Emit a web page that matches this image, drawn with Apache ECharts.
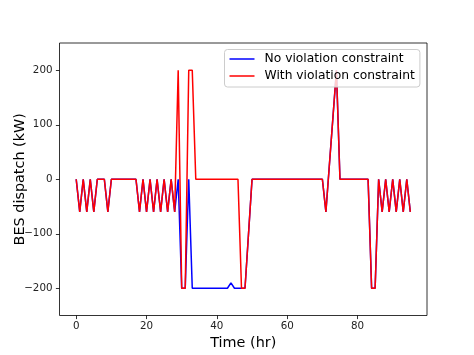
<!DOCTYPE html>
<html>
<head>
<meta charset="utf-8">
<script src="https://cdn.jsdelivr.net/npm/echarts@6/dist/echarts.min.js"></script>
<style>html,body{margin:0;padding:0;background:#fff}#c{width:474px;height:355px}</style>
</head>
<body>
<div id="c"></div>
<script>
// Values per 15-min step index (0..95)
const withViolation = [
  0,-60,0,-60,0,-60,0,0,0,-60,
  0,0,0,0,0,0,0,0,
  -60,0,-60,0,-60,0,-60,0,-60,0,-60,
  200,
  -200,-200,
  200,200,
  0,0,0,0,0,0,0,0,0,0,0,0,0,
  -200,-200,
  -100,
  0,0,0,0,0,0,0,0,0,0,0,0,0,0,0,0,0,0,0,0,0,
  -60,
  27,113,200,
  0,0,0,0,0,0,0,0,0,
  -200,-200,
  0,-60,0,-60,0,-60,0,-60,0,-60
];
const noViolation = [
  0,-60,0,-60,0,-60,0,0,0,-60,
  0,0,0,0,0,0,0,0,
  -60,0,-60,0,-60,0,-60,0,-60,0,-60,
  0,
  -200,-200,
  0,-200,
  -200,-200,-200,-200,-200,-200,-200,-200,-200,-200,-190,-200,-200,
  -200,-200,
  -100,
  0,0,0,0,0,0,0,0,0,0,0,0,0,0,0,0,0,0,0,0,0,
  -60,
  27,113,200,
  0,0,0,0,0,0,0,0,0,
  -200,-200,
  0,-60,0,-60,0,-60,0,-60,0,-60
];
const xTicks = [0, 20, 40, 60, 80];
const yTicks = [-200, -100, 0, 100, 200];
const seriesNames = ['No violation constraint', 'With violation constraint'];

const toPairs = arr => arr.map((v, i) => [i, v]);
const FONT = 'DejaVu Sans';
const chart = echarts.init(document.getElementById('c'), null, {renderer: 'canvas'});
chart.setOption({
  animation: false,
  backgroundColor: '#fff',
  grid: {left: 59.5, right: 47, top: 43, bottom: 39.5, show: true, borderColor: '#000', borderWidth: 0.8,
         backgroundColor: 'transparent', containLabel: false, outerBoundsMode: 'none'},
  legend: {
    orient: 'vertical', left: 224.5, top: 49.5,
    data: seriesNames.map(n => ({name: n, icon: 'rect'})),
    itemWidth: 25, itemHeight: 1.5, itemGap: 5,
    padding: [3.5, 5, 5, 5],
    backgroundColor: 'rgba(255,255,255,0.8)',
    borderColor: '#cccccc', borderWidth: 1, borderRadius: 3,
    textStyle: {fontFamily: FONT, fontSize: 12.3, color: '#000', padding: [0, 0, 0, 5], lineHeight: 12}
  },
  xAxis: {
    type: 'value', min: -4.75, max: 99.75,
    name: 'Time (hr)', nameLocation: 'middle', nameGap: 21, nameMoveOverlap: false,
    nameTextStyle: {fontFamily: FONT, fontSize: 14.4, color: '#000'},
    axisLine: {show: false, onZero: false},
    splitLine: {show: false},
    axisTick: {show: true, inside: false, length: 3.6, lineStyle: {color: '#000', width: 0.8}, customValues: xTicks},
    axisLabel: {fontFamily: FONT, fontSize: 10.3, color: '#222', margin: 6, customValues: xTicks}
  },
  yAxis: {
    type: 'value', min: -250, max: 250,
    name: 'BES dispatch (kW)', nameLocation: 'middle', nameGap: 32, nameMoveOverlap: false,
    nameTextStyle: {fontFamily: FONT, fontSize: 14.4, color: '#000'},
    axisLine: {show: false, onZero: false},
    splitLine: {show: false},
    axisTick: {show: true, inside: false, length: 3.6, lineStyle: {color: '#000', width: 0.8}, customValues: yTicks},
    axisLabel: {fontFamily: FONT, fontSize: 10.3, color: '#222', margin: 7, customValues: yTicks,
      formatter: v => (v < 0 ? '\u2212' + Math.abs(v) : String(v))}
  },
  series: [
    {name: seriesNames[0], type: 'line', data: toPairs(noViolation), symbol: 'none',
     lineStyle: {color: '#0000ff', width: 1.5}, itemStyle: {color: '#0000ff'}, z: 2},
    {name: seriesNames[1], type: 'line', data: toPairs(withViolation), symbol: 'none',
     lineStyle: {color: '#ff0000', width: 1.5}, itemStyle: {color: '#ff0000'}, z: 3}
  ]
});
</script>
</body>
</html>
